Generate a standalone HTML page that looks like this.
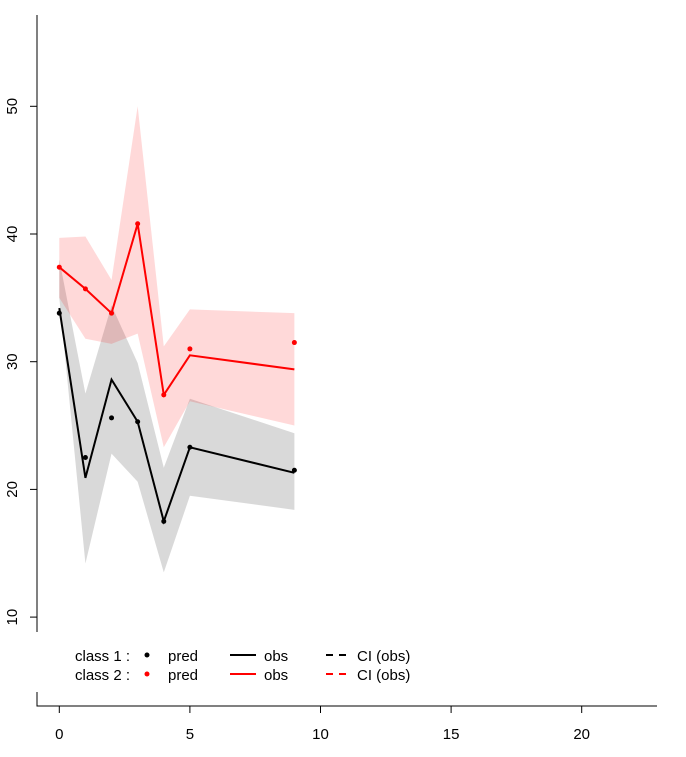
<!DOCTYPE html>
<html><head><meta charset="utf-8"><style>
body{margin:0;background:#fff}
text{font-family:"Liberation Sans",sans-serif;font-size:15px;fill:#000}
</style></head><body>
<svg id="chart" width="686" height="752" xmlns="http://www.w3.org/2000/svg">
<g id="bands"></g><g id="lines"></g><g id="axes"></g>
<g>
<text x="75" y="661">class 1 :</text>
<circle cx="147" cy="655" r="2.5" fill="#000"/>
<text x="168" y="661">pred</text>
<line x1="230" y1="655" x2="256" y2="655" stroke="#000" stroke-width="2"/>
<text x="264" y="661">obs</text>
<line x1="326" y1="655" x2="350" y2="655" stroke="#000" stroke-width="2" stroke-dasharray="7,6"/>
<text x="357" y="661">CI (obs)</text>
<text x="75" y="680">class 2 :</text>
<circle cx="147" cy="674" r="2.5" fill="#f00"/>
<text x="168" y="680">pred</text>
<line x1="230" y1="674" x2="256" y2="674" stroke="#f00" stroke-width="2"/>
<text x="264" y="680">obs</text>
<line x1="326" y1="674" x2="350" y2="674" stroke="#f00" stroke-width="2" stroke-dasharray="7,6"/>
<text x="357" y="680">CI (obs)</text>
</g>
</svg>
<script>
const times=[0,1,2,3,4,5,9];
const obs1=[34.2,20.9,28.6,25.3,17.5,23.3,21.3];
const pred1=[33.8,22.5,25.6,25.3,17.5,23.3,21.5];
const up1=[38.0,27.5,34.4,29.9,21.7,27.1,24.4];
const lo1=[35.0,14.2,22.8,20.6,13.5,19.5,18.4];
const obs2=[37.4,35.7,33.8,40.8,27.4,30.5,29.4];
const pred2=[37.4,35.7,33.8,40.8,27.4,31.0,31.5];
const up2=[39.7,39.8,36.4,50.0,31.2,34.1,33.8];
const lo2=[35.0,31.8,31.4,32.2,23.3,26.9,25.0];
const xTicks=[0,5,10,15,20];
const yTicks=[10,20,30,40,50];
const X=v=>59.3+v*26.12;
const Y=v=>361.7-(v-30)*12.77;
const NS="http://www.w3.org/2000/svg";
function mk(tag,attrs,parent){const e=document.createElementNS(NS,tag);for(const k in attrs)e.setAttribute(k,attrs[k]);document.getElementById(parent).appendChild(e);return e;}
function band(up,lo,fill,name){
  const pts=times.map((t,i)=>X(t)+","+Y(up[i])).concat(times.slice().reverse().map((t,j)=>{const i=times.length-1-j;return X(t)+","+Y(lo[i]);}));
  const p=mk("polygon",{points:pts.join(" "),fill:fill},"bands");
  
  
}
band(up1,lo1,"rgba(128,128,128,0.3)","ci-band-class1");
band(up2,lo2,"rgba(255,0,0,0.15)","ci-band-class2");
function series(obs,pred,col,n){
  const l=mk("polyline",{points:times.map((t,i)=>X(t)+","+Y(obs[i])).join(" "),fill:"none",stroke:col,"stroke-width":2},"lines");
  
  
  pred.forEach((v,i)=>{const c=mk("circle",{cx:X(times[i]),cy:Y(v),r:2.5,fill:col},"lines");
    
    });
}
series(obs1,pred1,"#000",1);
series(obs2,pred2,"#f00",2);
const ax=mk("polyline",{points:"37,692 37,706 657,706",fill:"none",stroke:"#000"},"axes");


xTicks.forEach(t=>{mk("line",{x1:X(t),y1:706,x2:X(t),y2:713,stroke:"#000"},"axes");
  const tx=mk("text",{x:X(t),y:739,"text-anchor":"middle"},"axes");tx.textContent=t;
  
  });
const ay=mk("line",{x1:37,y1:15,x2:37,y2:632,stroke:"#000"},"axes");


yTicks.forEach(t=>{mk("line",{x1:30,y1:Y(t),x2:37,y2:Y(t),stroke:"#000"},"axes");
  const tx=mk("text",{x:17,y:Y(t),"text-anchor":"middle",transform:`rotate(-90 17 ${Y(t)})`},"axes");tx.textContent=t;
  
  });
</script>
</body></html>
